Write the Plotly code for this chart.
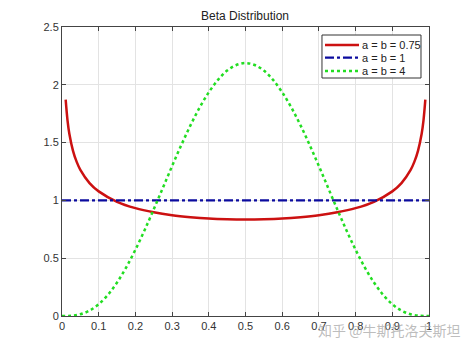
import plotly.graph_objects as go

# a = b = 0.75
x_red = [0.01, 0.015, 0.02, 0.03, 0.04, 0.05, 0.075, 0.1, 0.15, 0.2, 0.25, 0.3, 0.35, 0.4, 0.45, 0.5,
         0.55, 0.6, 0.65, 0.7, 0.75, 0.8, 0.85, 0.9, 0.925, 0.95, 0.96, 0.97, 0.98, 0.985, 0.99]
y_red = [1.871, 1.693, 1.577, 1.429, 1.333, 1.264, 1.150, 1.078, 0.988, 0.933, 0.897, 0.872, 0.855, 0.843, 0.837, 0.835,
         0.837, 0.843, 0.855, 0.872, 0.897, 0.933, 0.988, 1.078, 1.150, 1.264, 1.333, 1.429, 1.577, 1.693, 1.871]

# a = b = 1
x_blue = [0, 1]
y_blue = [1, 1]

# a = b = 4
x_green = [0, 0.025, 0.05, 0.075, 0.1, 0.125, 0.15, 0.175, 0.2, 0.225, 0.25, 0.275, 0.3, 0.325, 0.35, 0.375, 0.4,
           0.425, 0.45, 0.475, 0.5, 0.525, 0.55, 0.575, 0.6, 0.625, 0.65, 0.675, 0.7, 0.725, 0.75, 0.775, 0.8,
           0.825, 0.85, 0.875, 0.9, 0.925, 0.95, 0.975, 1]
y_green = [0, 0.002, 0.015, 0.047, 0.102, 0.183, 0.290, 0.421, 0.573, 0.742, 0.923, 1.110, 1.297, 1.478, 1.649, 1.803, 1.935,
           2.043, 2.123, 2.171, 2.188, 2.171, 2.123, 2.043, 1.935, 1.803, 1.649, 1.478, 1.297, 1.110, 0.923, 0.742, 0.573,
           0.421, 0.290, 0.183, 0.102, 0.047, 0.015, 0.002, 0]

x_ticks = [0, 0.1, 0.2, 0.3, 0.4, 0.5, 0.6, 0.7, 0.8, 0.9, 1]
x_tick_labels = ["0", "0.1", "0.2", "0.3", "0.4", "0.5", "0.6", "0.7", "0.8", "0.9", "1"]
y_ticks = [0, 0.5, 1, 1.5, 2, 2.5]
y_tick_labels = ["0", "0.5", "1", "1.5", "2", "2.5"]

series_names = ["a = b = 0.75", "a = b = 1", "a = b = 4"]
series_colors = ["#cc1111", "#0b0b9e", "#22dd22"]
series_dash = ["solid", "dashdot", "dot"]
series_width = [2.5, 2.2, 2.5]

FONT = "Liberation Sans, Arial"

fig = go.Figure()
fig.add_trace(go.Scatter(x=x_red, y=y_red, mode="lines", name=series_names[0],
                         line=dict(color=series_colors[0], width=series_width[0], dash=series_dash[0], shape="spline")))
fig.add_trace(go.Scatter(x=x_blue, y=y_blue, mode="lines", name=series_names[1],
                         line=dict(color=series_colors[1], width=series_width[1], dash=series_dash[1])))
fig.add_trace(go.Scatter(x=x_green, y=y_green, mode="lines", name=series_names[2],
                         line=dict(color=series_colors[2], width=series_width[2], dash=series_dash[2], shape="spline")))

axis_common = dict(showline=True, linecolor="#444444", linewidth=1, mirror="ticks",
                   ticks="inside", ticklen=4, tickcolor="#444444", automargin=False,
                   showgrid=True, gridcolor="#e3e3e3", gridwidth=1, zeroline=False,
                   tickfont=dict(family=FONT, size=11, color="#333333"))

fig.update_layout(
    width=474, height=356,
    margin=dict(l=54, r=53, t=19, b=48),
    paper_bgcolor="white", plot_bgcolor="white",
    title=dict(text="Beta Distribution", x=(245 - 8) / 474, xanchor="center",
               y=1 - (16 - 8) / 356, yanchor="middle",
               font=dict(family=FONT, size=12, color="#222222")),
    xaxis=dict(range=[0, 1], tickvals=x_ticks, ticktext=x_tick_labels, **axis_common),
    yaxis=dict(range=[0, 2.5], tickvals=y_ticks, ticktext=y_tick_labels, **axis_common),
    showlegend=False,
)

# Legend box drawn in MATLAB style
fig.add_shape(type="rect", xref="paper", yref="paper", x0=0.7084, x1=0.9782, y0=0.8235, y1=0.9723,
              line=dict(color="#333333", width=1), fillcolor="white", layer="above")
row_y = [0.9377, 0.8938, 0.8478]
for i in range(3):
    fig.add_shape(type="line", xref="paper", yref="paper", x0=0.7166, x1=0.8093, y0=row_y[i], y1=row_y[i],
                  line=dict(color=series_colors[i], width=series_width[i], dash=series_dash[i]), layer="above")
    fig.add_annotation(text=series_names[i], xref="paper", yref="paper", x=0.812, y=row_y[i],
                       xanchor="left", yanchor="middle", showarrow=False,
                       font=dict(family=FONT, size=11, color="#222222"))

fig.add_annotation(text="知乎 @牛斯托洛夫斯坦", xref="paper", yref="paper", x=1.09, y=-0.05,
                   xanchor="right", yanchor="middle", showarrow=False,
                   font=dict(family="Noto Sans CJK SC", size=14, color="rgba(160,160,160,0.7)"))

fig.write_html("out.html")
